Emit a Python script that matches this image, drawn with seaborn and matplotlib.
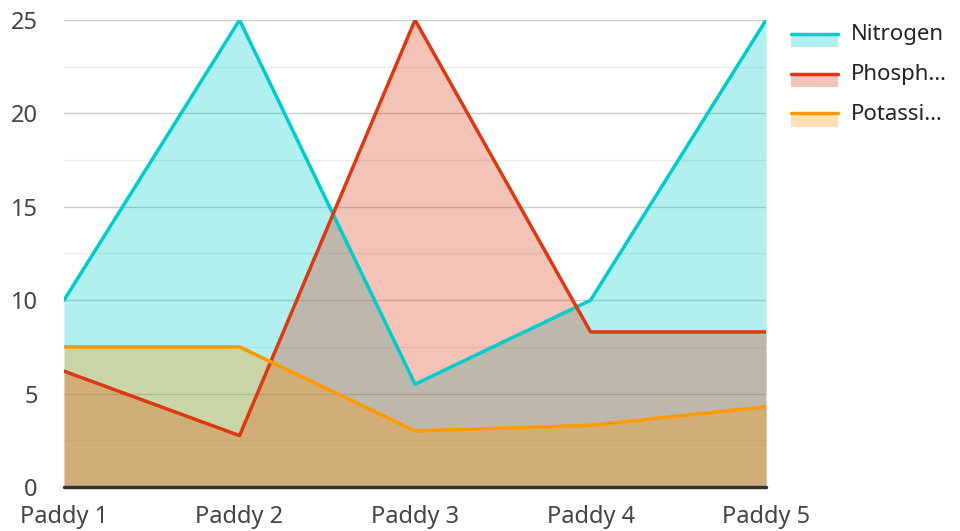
import numpy as np
import pandas as pd
import seaborn as sns
import matplotlib.pyplot as plt
from matplotlib.legend_handler import HandlerBase
from matplotlib.patches import Rectangle
from matplotlib.lines import Line2D

paddies = ['Paddy 1', 'Paddy 2', 'Paddy 3', 'Paddy 4', 'Paddy 5']
nitrogen = [10, 25, 5.5, 10, 25]
phosphorus = [6.2, 2.75, 25, 8.3, 8.3]
potassium = [7.5, 7.5, 3.0, 3.3, 4.3]

names = ['Nitrogen', 'Phosph…', 'Potassi…']
colors = ['#00CCCC', '#DC3912', '#FF9900']

df = pd.DataFrame({'x': np.arange(len(paddies)),
                   'Nitrogen': nitrogen,
                   'Phosph…': phosphorus,
                   'Potassi…': potassium})

sns.set_style('white')
plt.rcParams['font.family'] = ['Noto Sans', 'DejaVu Sans']

fig = plt.figure(figsize=(9.6, 5.31), dpi=100)
ax = fig.add_axes([0.0667, 0.0829, 0.7313, 0.8794])

for name, c in zip(names, colors):
    ax.fill_between(df['x'], 0, df[name], color=c, alpha=0.3, linewidth=0, zorder=2)
for name, c in zip(names, colors):
    sns.lineplot(data=df, x='x', y=name, color=c, linewidth=2.5, ax=ax, zorder=3)

ax.set_xlim(0, len(paddies) - 1)
ax.set_ylim(0, 25)
ax.set_yticks([0, 5, 10, 15, 20, 25])
ax.set_yticks([2.5, 7.5, 12.5, 17.5, 22.5], minor=True)
ax.set_xticks(df['x'])
ax.set_xticklabels(paddies)
ax.grid(axis='y', which='major', color='#cccccc', linewidth=1, zorder=1)
ax.grid(axis='y', which='minor', color='#ebebeb', linewidth=1, zorder=1)
ax.set_axisbelow(True)
ax.axhline(0, color='#333333', linewidth=2.5, zorder=4, clip_on=False)
for s in ax.spines.values():
    s.set_visible(False)
ax.tick_params(axis='both', which='both', length=0, labelsize=17, labelcolor='#444444')
ax.tick_params(axis='x', pad=13)
ax.tick_params(axis='y', pad=19)
ax.set_xlabel('')
ax.set_ylabel('')


class LineFillHandler(HandlerBase):
    def __init__(self, color):
        super().__init__()
        self.color = color

    def create_artists(self, legend, orig_handle, xdescent, ydescent, width, height, fontsize, trans):
        top = -ydescent + height * 0.4
        rect = Rectangle((-xdescent, top - 0.6 * fontsize), width, 0.6 * fontsize,
                         facecolor=self.color, alpha=0.3, edgecolor='none', transform=trans)
        line = Line2D([-xdescent, -xdescent + width], [top, top], color=self.color,
                      linewidth=2.5, transform=trans)
        return [rect, line]


handles = [Rectangle((0, 0), 1, 1) for _ in names]
fig.legend(handles, names, loc='upper left', bbox_to_anchor=(0.824, 0.955),
           borderpad=0, borderaxespad=0,
           frameon=False, fontsize=16, labelcolor='#222222', handlelength=2.1,
           handleheight=0.7, labelspacing=0.85, handletextpad=0.6,
           handler_map={h: LineFillHandler(c) for h, c in zip(handles, colors)})

fig.savefig('out.png', dpi=100)
